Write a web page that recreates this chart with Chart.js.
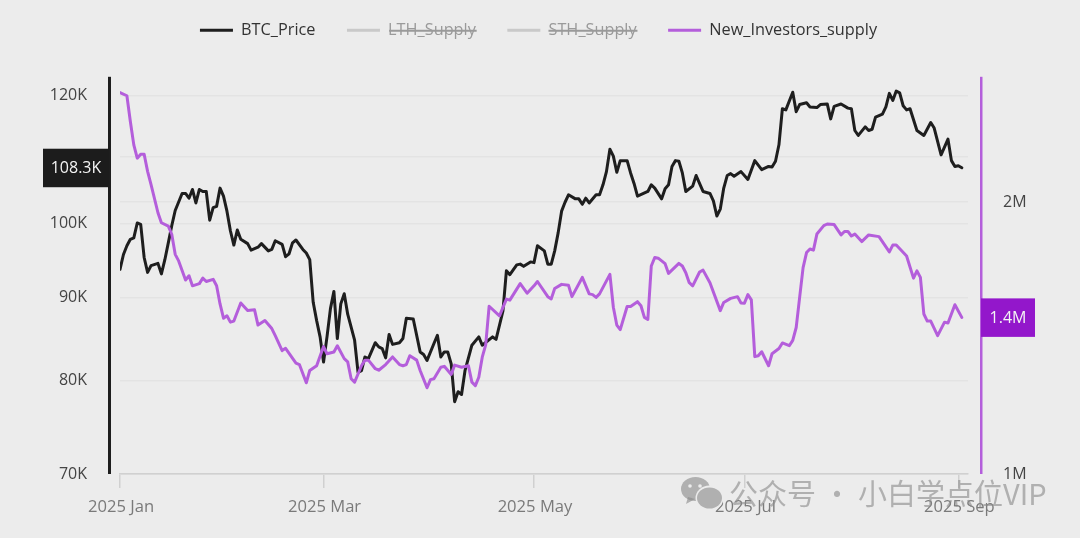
<!DOCTYPE html>
<html><head><meta charset="utf-8">
<style>html,body{margin:0;padding:0;background:#ececec;overflow:hidden}canvas{display:block}</style>
<script src="https://cdn.jsdelivr.net/npm/chart.js@4"></script>
</head><body><canvas id="c" width="1080" height="538"></canvas>
<script>
const xTickDays = [0,59,120,181,243];
const xTickLabels = ['2025 Jan','2025 Mar','2025 May','2025 Jul','2025 Sep'];
const priceTicks = [70,80,90,100,110,120];
const priceTickLabels = ['70K','80K','90K','100K','','120K'];
const supplyTicks = [1,2];
const supplyTickLabels = ['1M','2M'];
const lastPriceLabel = '108.3K';
const lastSupplyLabel = '1.4M';
const watermark = '公众号 · 小白学点位VIP';

const btcDays = [0,1,2,3,4,5,6,7,8,9,11,12,13,14,15,16,18,19,20,21,22,23,24,25,26,27,28,29,30,31,32,33,34,35,37,38,40,41,43,44,45,47,48,49,50,51,53,54,55,56,57,58,59,60,61,62,63,64,65,66,68,69,70,71,72,74,75,76,77,78,79,81,82,83,85,87,88,89,91,92,93,94,95,96,97,98,99,100,102,104,105,108,109,111,112,113,115,116,117,119,120,121,123,124,125,126,127,128,129,130,132,133,134,135,136,138,139,140,141,142,143,144,145,147,148,149,150,153,154,155,157,158,159,160,161,162,163,164,166,167,169,171,172,173,174,175,176,177,178,180,182,184,186,188,189,190,191,192,193,195,196,197,199,200,202,203,205,206,207,209,211,212,213,214,216,217,218,219,221,222,223,224,225,226,227,228,229,231,233,235,236,238,240,241,242,243,244];
const btcPrice = [93.7,95.7,96.9,97.8,98.0,100.1,99.9,95.3,93.3,94.2,94.5,93.1,95.0,97.3,99.7,101.9,104.4,104.4,103.7,105.0,103.0,105.0,104.7,104.7,100.5,102.3,102.5,105.2,104.0,101.8,99.0,97.0,99.1,97.8,97.2,96.3,96.7,97.2,96.2,96.4,97.6,97.1,95.4,95.8,97.3,97.7,96.4,95.9,95.0,89.4,87.1,85.1,82.1,85.1,88.6,90.8,84.9,89.2,90.5,87.9,84.7,80.9,81.1,82.7,82.5,84.4,83.9,83.7,82.6,85.4,84.2,84.4,84.9,87.4,87.3,83.3,83.0,82.3,84.3,85.3,82.7,83.3,83.3,81.9,77.6,78.7,78.4,81.1,84.1,85.1,84.1,85.1,84.8,88.3,93.5,93.0,94.3,94.4,94.1,94.7,94.6,96.9,96.2,94.4,94.4,96.2,98.7,101.8,103.1,104.2,103.6,103.6,102.8,103.7,103.0,104.2,104.2,105.7,107.7,111.2,110.1,107.6,109.4,109.4,107.5,105.9,104.0,104.7,105.7,105.2,103.6,105.1,105.7,108.5,109.4,109.3,107.5,104.7,105.5,107.1,104.7,104.4,103.3,101.1,102.1,105.2,107.1,107.4,107.0,107.7,106.5,109.4,108.0,108.5,108.4,109.3,111.9,117.8,117.6,120.6,117.3,118.5,118.8,118.1,118.0,118.5,118.6,116.1,118.2,118.6,117.9,117.8,114.2,113.4,114.8,114.2,114.4,116.4,116.9,118.1,120.4,119.2,120.8,120.5,118.3,117.6,117.8,114.2,113.4,115.5,114.6,110.3,112.8,109.4,108.5,108.6,108.3];

const newDays = [0,2,3,4,5,6,7,8,9,11,12,14,15,16,17,19,20,21,23,24,25,27,28,29,30,31,32,33,35,37,39,40,42,44,45,47,48,51,52,54,55,57,59,60,62,63,65,66,67,68,70,71,72,74,75,77,79,81,82,83,84,86,87,89,90,91,93,94,96,97,99,101,102,103,104,105,106,107,110,112,113,116,118,120,121,124,125,126,128,130,131,134,136,137,138,139,142,143,144,145,147,148,150,151,152,153,154,155,156,158,159,162,163,164,165,166,168,169,171,174,175,177,179,180,181,182,183,184,185,186,188,189,191,192,194,195,196,197,198,199,200,201,202,204,205,207,209,210,211,212,213,215,217,220,223,224,225,228,230,231,232,233,234,235,237,239,240,242,244];
const newSupply = [2.646,2.624,2.457,2.315,2.238,2.26,2.26,2.164,2.092,1.947,1.898,1.882,1.843,1.751,1.722,1.64,1.658,1.616,1.625,1.648,1.634,1.643,1.616,1.543,1.488,1.497,1.473,1.477,1.547,1.517,1.52,1.462,1.479,1.449,1.423,1.37,1.378,1.327,1.322,1.262,1.302,1.318,1.384,1.359,1.365,1.387,1.342,1.331,1.275,1.264,1.318,1.337,1.337,1.308,1.303,1.322,1.348,1.322,1.318,1.322,1.352,1.337,1.302,1.246,1.272,1.275,1.313,1.316,1.289,1.32,1.313,1.318,1.264,1.253,1.28,1.347,1.39,1.534,1.497,1.562,1.558,1.625,1.586,1.616,1.634,1.572,1.563,1.605,1.622,1.618,1.572,1.651,1.583,1.58,1.569,1.583,1.664,1.53,1.462,1.445,1.533,1.533,1.552,1.536,1.491,1.483,1.7,1.737,1.734,1.71,1.668,1.711,1.7,1.671,1.629,1.616,1.674,1.682,1.629,1.517,1.549,1.565,1.572,1.547,1.546,1.58,1.559,1.349,1.352,1.366,1.318,1.359,1.377,1.397,1.387,1.406,1.453,1.569,1.693,1.759,1.775,1.77,1.844,1.884,1.892,1.889,1.84,1.856,1.856,1.835,1.844,1.809,1.84,1.832,1.762,1.793,1.793,1.744,1.648,1.679,1.651,1.504,1.477,1.477,1.423,1.473,1.47,1.54,1.491];
const lthSupply = [];
const sthSupply = [];

const BLACK='#1e1e1e', PURPLE='#b45edb', FONT='"Open Sans", "Noto Sans", sans-serif';
const pts=(xs,ys)=>xs.map((x,i)=>({x,y:ys[i]}));
const lineBase={pointRadius:0,borderWidth:3,tension:0,borderJoinStyle:'round',borderCapStyle:'round',parsing:false,normalized:true};

const decor={
  id:'decor',
  afterLayout(chart){
    const l=chart.legend;
    l.top=l.top-28.5; l.left-=1.5; l.right-=1.5;
  },
  afterDraw(chart){
    const {ctx,chartArea:a}=chart;
    const y=chart.scales.y, y2=chart.scales.y2;
    ctx.save();
    ctx.fillStyle=BLACK; ctx.fillRect(108,a.top,3,a.bottom-a.top);
    ctx.fillStyle=PURPLE; ctx.fillRect(980,a.top,2.5,a.bottom-a.top);
    const py=y.getPixelForValue(btcPrice[btcPrice.length-1]);
    const sy=y2.getPixelForValue(newSupply[newSupply.length-1]);
    ctx.fillStyle='#1c1c1c'; ctx.fillRect(43,py-19,66,38.5);
    ctx.fillStyle='#9317cb'; ctx.fillRect(981,sy-19,54,38.5);
    ctx.fillStyle='#f4f4f4'; ctx.font='16px '+FONT; ctx.textAlign='center'; ctx.textBaseline='middle';
    ctx.fillText(lastPriceLabel,76,py+1);
    ctx.fillText(lastSupplyLabel,1008,sy+1);
    ctx.globalAlpha=.62; ctx.fillStyle='#8a8a8a';
    ctx.textAlign='left';
    ctx.font='29px "Noto Sans CJK SC", sans-serif';
    ctx.fillText(watermark,729,494);
    ctx.beginPath(); ctx.ellipse(695.5,489,14.5,12,0,0,Math.PI*2); ctx.fill();
    ctx.beginPath(); ctx.moveTo(688,497); ctx.lineTo(686,504); ctx.lineTo(695,499); ctx.fill();
    ctx.globalAlpha=1; ctx.fillStyle='#ececec';
    ctx.beginPath(); ctx.ellipse(709.5,498,14,12.5,0,0,Math.PI*2); ctx.fill();
    ctx.beginPath(); ctx.arc(690,486,1.8,0,Math.PI*2); ctx.fill();
    ctx.beginPath(); ctx.arc(700,486,1.8,0,Math.PI*2); ctx.fill();
    ctx.globalAlpha=.62; ctx.fillStyle='#8a8a8a';
    ctx.beginPath(); ctx.ellipse(709.5,498,12.5,10.5,0,0,Math.PI*2); ctx.fill();
    ctx.restore();
  }
};

new Chart(document.getElementById('c'),{
  type:'line',
  plugins:[decor],
  data:{datasets:[
    {...lineBase,label:'BTC_Price',data:pts(btcDays,btcPrice),borderColor:BLACK,backgroundColor:BLACK,yAxisID:'y',order:2},
    {...lineBase,label:'LTH_Supply',data:lthSupply,hidden:true,borderColor:'#c9c9c9',backgroundColor:'#c9c9c9',yAxisID:'y2',order:3},
    {...lineBase,label:'STH_Supply',data:sthSupply,hidden:true,borderColor:'#c9c9c9',backgroundColor:'#c9c9c9',yAxisID:'y2',order:4},
    {...lineBase,label:'New_Investors_supply',data:pts(newDays,newSupply),borderColor:PURPLE,backgroundColor:PURPLE,yAxisID:'y2',order:1}
  ]},
  options:{
    responsive:false,animation:false,
    devicePixelRatio:1,
    layout:{padding:{top:19}},
    plugins:{
      tooltip:{enabled:false},
      legend:{
        display:true,position:'top',align:'center',
        labels:{
          boxWidth:33,boxHeight:3,padding:31.5,
          font:{family:FONT,size:16.3},
          sort:(a,b)=>a.datasetIndex-b.datasetIndex,
          generateLabels(chart){
            return Chart.defaults.plugins.legend.labels.generateLabels(chart).map(it=>({...it,lineWidth:0,fontColor:it.hidden?'#9a9a9a':'#333333'}));
          }
        }
      }
    },
    scales:{
      x:{
        type:'linear',min:0,max:245.8,
        afterBuildTicks(s){s.ticks=xTickDays.map(v=>({value:v}));},
        afterFit(s){s.height=64;},
        ticks:{autoSkip:false,maxRotation:0,minRotation:0,padding:9,labelOffset:1,color:'#7a7a7a',font:{family:FONT,size:16.6},
          callback:v=>xTickLabels[xTickDays.indexOf(v)]??''},
        grid:{drawOnChartArea:false,drawTicks:true,tickLength:14,color:'#d0d0d0',lineWidth:1.5},
        border:{display:true,color:'#d0d0d0',width:1.5}
      },
      y:{
        type:'logarithmic',position:'left',min:70,max:123.28,
        afterBuildTicks(s){s.ticks=priceTicks.map(v=>({value:v}));},
        afterFit(s){s.width=120;},
        ticks:{autoSkip:false,padding:33,color:'#444444',font:{family:FONT,size:16},
          callback:v=>priceTickLabels[priceTicks.indexOf(v)]??''},
        grid:{drawTicks:false,color:'#e3e3e3',lineWidth:1.5},
        border:{display:false}
      },
      y2:{
        type:'logarithmic',position:'right',min:1,max:2.754,
        afterBuildTicks(s){s.ticks=supplyTicks.map(v=>({value:v}));},
        afterFit(s){s.width=112;},
        ticks:{autoSkip:false,padding:35,color:'#444444',font:{family:FONT,size:16},
          callback:v=>supplyTickLabels[supplyTicks.indexOf(v)]??''},
        grid:{drawTicks:false,color:'#e3e3e3',lineWidth:1.5},
        border:{display:false}
      }
    }
  }
});
</script></body></html>
